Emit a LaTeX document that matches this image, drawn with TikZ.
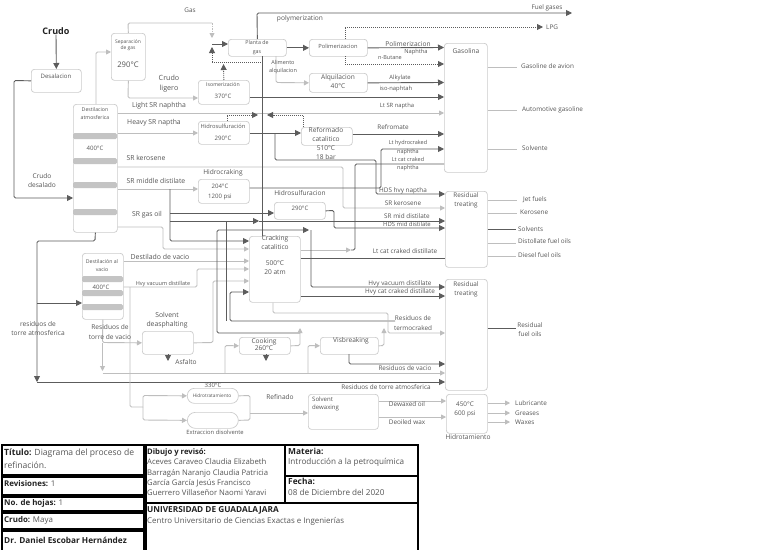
\documentclass[tikz,border=0pt]{standalone}
\usepackage{fontspec}
\setmainfont{Open Sans}
\usetikzlibrary{arrows.meta}
\definecolor{darkc}{HTML}{5C5C5C}
\definecolor{lightc}{HTML}{BEBEBE}
\definecolor{boxc}{HTML}{CCCCCC}
\definecolor{txtc}{HTML}{555555}
\definecolor{bandc}{HTML}{C4C4C4}
\definecolor{tbk}{HTML}{222222}
\newcommand\myfs[2]{\fontsize{\fpeval{#1*1.1}}{\fpeval{#2*1.1}}\selectfont}
\newcommand\tbl[1]{{\color{tbk}\bfseries #1}}
\begin{document}
\begin{tikzpicture}[x=1pt,y=-1pt,
 box/.style={draw=boxc,line width=0.7pt,rounded corners=3pt,fill=white,inner sep=0pt,anchor=north west},
 dk/.style={draw=darkc,line width=0.9pt,rounded corners=1.5pt},
 lt/.style={draw=lightc,line width=0.9pt,rounded corners=1.5pt},
 dkdot/.style={draw=darkc,line width=0.9pt,dash pattern=on 1pt off 1pt},
 tipd/.style={-{Triangle[length=6pt,width=6pt]}},
 tipl/.style={-{Triangle[length=5pt,width=5pt]}},
 lbl/.style={text=txtc,inner sep=0pt,align=center,font=\myfs{5.8}{7}},
 tiny/.style={text=txtc,inner sep=0pt,align=center,font=\myfs{4.7}{7.3}},
 band/.style={fill=bandc,draw=none,rounded corners=1.5pt},
 tb/.style={draw=black,line width=1.6pt,inner sep=0pt,anchor=north west},
 tbt/.style={text=txtc,inner sep=0pt,anchor=west,font=\myfs{7.8}{9}},
 tbn/.style={text=txtc,inner sep=0pt,anchor=west,font=\myfs{7}{8}}
]
\fill[white] (0,0) rectangle (768,549);
\useasboundingbox (0,0) rectangle (768,549);

% ---------- boxes ----------
\node[box,minimum width=50pt,minimum height=23pt] (desal) at (31,69) {};
\node[box,minimum width=34pt,minimum height=47pt] (sep) at (111,33) {};
\node[box,minimum width=44pt,minimum height=128pt] (atm) at (73,104) {};
\node[box,minimum width=41pt,minimum height=66pt] (vac) at (82,253) {};
\node[box,minimum width=58pt,minimum height=17pt] (planta) at (228,39) {};
\node[box,minimum width=58pt,minimum height=17pt] (polim) at (309,39) {};
\node[box,minimum width=58pt,minimum height=19pt] (alqu) at (309,73) {};
\node[box,minimum width=51pt,minimum height=24pt] (isom) at (198,80) {};
\node[box,minimum width=51pt,minimum height=23pt] (hds1) at (198,121) {};
\node[box,minimum width=51pt,minimum height=18pt] (refor) at (301,127) {};
\node[box,minimum width=51pt,minimum height=24pt] (hcrk) at (198,179) {};
\node[box,minimum width=51pt,minimum height=17pt] (hds2) at (274,202) {};
\node[box,minimum width=51pt,minimum height=66pt] (crack) at (249,236) {};
\node[box,minimum width=43pt,minimum height=129pt] (gasol) at (444,43) {};
\node[box,minimum width=42pt,minimum height=76pt] (res1) at (445,191) {};
\node[box,minimum width=42pt,minimum height=111pt] (res2) at (445,279) {};
\node[box,minimum width=51pt,minimum height=23pt] (deasph) at (142,331) {};
\node[box,minimum width=51pt,minimum height=17pt] (cook) at (239,337) {};
\node[box,minimum width=58pt,minimum height=17pt] (visb) at (320,337) {};
\node[box,rounded corners=7pt,minimum width=51pt,minimum height=15pt] (hidrotr) at (187,388) {};
\node[box,rounded corners=8pt,minimum width=51pt,minimum height=16pt] (extr) at (187,412) {};
\node[box,minimum width=70pt,minimum height=35pt] (dewax) at (308,394) {};
\node[box,minimum width=41pt,minimum height=39pt] (hidrotam) at (446,394) {};

% column bands
\fill[band] (73,133) rectangle (117,139);
\fill[band] (73,158) rectangle (117,164);
\fill[band] (73,182) rectangle (117,188);
\fill[band] (73,209) rectangle (117,215);
\fill[band] (82,276) rectangle (123,282);
\fill[band] (82,290) rectangle (123,296);
\fill[band] (82,304) rectangle (123,310);

% ---------- texts in boxes ----------
\node[text=tbk,inner sep=0pt,font=\fontsize{9}{10}\selectfont\bfseries] (crudoN) at (56,31) {Crudo};
\node[lbl,font=\myfs{5.5}{7}] (desalT) at (56,76) {Desalacion};
\node[tiny,font=\myfs{4.5}{5.5}] (sepT) at (128,45) {Separación\\de gas};
\node[lbl,font=\myfs{7}{8}] (sepC) at (128,65) {290°C};
\node[tiny] (atmT) at (95,114) {Destilacion\\atmosferica};
\node[lbl,font=\myfs{5.5}{7}] (atmC) at (95,148) {400°C};
\node[tiny] (vacT) at (102,266) {Destilación al\\vacio};
\node[lbl,font=\myfs{5.5}{7}] (vacC) at (101,287) {400°C};
\node[tiny,font=\myfs{4.8}{7.7}] (plantaT) at (257,47.5) {Planta de\\gas};
\node[lbl,font=\myfs{5.2}{7}] (polimT) at (338,46) {Polimerizacion};
\node[lbl,font=\myfs{6}{8.2}] (alquT) at (338,82) {Alquilacion\\40°C};
\node[tiny] (isomT) at (223,85) {Isomerización};
\node[lbl,font=\myfs{5.5}{7}] (isomC) at (223,96) {370°C};
\node[lbl,font=\myfs{5.2}{7}] (hds1T) at (223,126) {Hidrosulfuración};
\node[lbl,font=\myfs{5.5}{7}] (hds1C) at (223,138) {290°C};
\node[lbl,font=\myfs{6}{8.2},anchor=north] (reforT) at (326,127.5) {Reformado\\catalitico\\510°C\\18 bar};
\node[lbl,font=\myfs{6}{7}] (hcrkL) at (223,173) {Hidrocraking};
\node[lbl,font=\myfs{5.5}{9.1}] (hcrkT) at (220,192) {204°C\\1200 psi};
\node[lbl,font=\myfs{6}{7}] (hds2L) at (300,193) {Hidrosulfuracion};
\node[lbl,font=\myfs{5.5}{7}] (hds2T) at (300,208) {290°C};
\node[lbl,font=\myfs{6}{8.2}] (crackT) at (275,242.5) {Cracking\\catalitico};
\node[lbl,font=\myfs{6}{8.2}] (crackC) at (275,267.5) {500°C\\20 atm};
\node[lbl,font=\myfs{6}{7}] (gasolT) at (466,51) {Gasolina};
\node[lbl,font=\myfs{5.8}{8.2}] (res1T) at (466,200.5) {Residual\\treating};
\node[lbl,font=\myfs{5.8}{8.2}] (res2T) at (466,289.5) {Residual\\treating};
\node[lbl,font=\myfs{6.2}{7.7}] (deasphL) at (167,320) {Solvent\\deasphalting};
\node[lbl,font=\myfs{6}{6.8}] (cookT) at (264,344.5) {Cooking\\260°C};
\node[lbl,font=\myfs{6}{7}] (visbT) at (351,341) {Visbreaking};
\node[tiny,font=\myfs{4.3}{5}] (hidrotrT) at (212,395.5) {Hidrotratamiento};
\node[lbl,font=\myfs{5.5}{7}] (hidrotrC) at (213,385) {330°C};
\node[lbl,font=\myfs{5.3}{7}] (extrT) at (215,432) {Extraccion disolvente};
\node[lbl,font=\myfs{5.5}{7.3},align=left,anchor=north west] (dewaxT) at (312,397) {Solvent\\dewaxing};
\node[lbl,font=\myfs{5.8}{8.2}] (hidrotamT) at (465,409.5) {450°C\\600 psi};
\node[lbl,font=\myfs{6}{7}] (hidrotamL) at (468,437) {Hidrotamiento};

% ---------- connectors ----------
\coordinate (fgEnd) at (572,13);
\coordinate (lpgEnd) at (543,27);
\coordinate (gasJ) at (212,44);
\draw[dk,tipd] (crudoN.south) -- (desal.north);
\draw[dk,tipd] (desal.west) -- (14,80.5) -- (14,198) -- (atm.west|-0,198);
\draw[lt,tipl] (96,104) -- (96,52) -- (sep.west|-0,52);
\draw[lt] (sep.north) -- (128,23) -- (212,23);
\draw[draw=lightc,line width=0.9pt,dash pattern=on 1.5pt off 1pt,tipl] (212,23) -- (212,38);
\draw[dkdot,tipd] (212,62) -- (212,47);
\draw[dk,tipd] (gasJ) -- (planta.west|-0,44);
\draw[dkdot,tipd] (isom.north) -- (223.5,64);
\draw[dkdot] (212,62) -- (262,62);
\draw[dk,tipd] (planta.east) -- (polim.west);
\draw[dk,tipd] (planta.north) -- (257,13) -- (fgEnd);
\draw[dkdot,tipd] (345,39) -- (345,27) -- (lpgEnd);
\draw[dkdot,tipd] (345,56) -- (345,64) -- (gasol.west|-0,64);
\draw[dk,tipd] (polim.east) -- (gasol.west|-0,47.5);
\draw[lt,tipl] (276,56) -- (276,82.5) -- (alqu.west);
\draw[dk,tipd] (alqu.east) -- (gasol.west|-0,82.5);
\draw[lt,tipl] (sep.south) -- (128,98) -- (isom.west|-0,98);
\draw[dk,tipd] (isom.east|-0,97) -- (gasol.west|-0,97);
\draw[lt,tipl] (atm.east|-0,113) -- (gasol.west|-0,113);
\draw[dkdot,tipd] (227,121) -- (227,115) -- (258,115);
\draw[dkdot,tipd] (303,127) -- (303,115) -- (267,115);
\draw[lt,tipl] (atm.east|-0,133) -- (hds1.west|-0,133);
\draw[dk,tipd] (hds1.east|-0,133) -- (refor.west|-0,133);
\draw[dk,tipd] (refor.east|-0,134) -- (gasol.west|-0,134);
\draw[dk,tipd] (275,133) -- (275,160) -- (376,160) -- (376,194) -- (res1.west|-0,194);
\draw[lt,tipl] (atm.east|-0,167) -- (343,167) -- (343,208) -- (res1.west|-0,208);
\draw[lt,tipl] (atm.east|-0,189) -- (hcrk.west|-0,189);
\draw[dk,tipd] (170,189) -- (170,241) -- (crack.west|-0,241);
\draw[dk,tipd] (170,213) -- (hds2.west|-0,213);
\draw[dk,tipd] (170,221) -- (259,221);
\draw[dk,tipd] (259,221) -- (res1.west|-0,221);
\draw[dk,tipd] (hcrk.east|-0,188) -- (381,188) -- (381,149) -- (gasol.west|-0,149);
\draw[lt,tipl] (crack.east|-0,250) -- (351,250);
\draw[dk] (351,250) -- (355,250) -- (355,164) -- (gasol.west|-0,164);
\draw[dk] (crack.east|-0,258) -- (res1.west|-0,258);
\draw[dk,tipd] (hds2.east) -- (334,210.5) -- (334,228) -- (res1.west|-0,228);
\draw[dk] (262,56) -- (262,236);
\draw[lt,tipl] (atm.east|-0,227) -- (163,227) -- (163,249) -- (crack.west|-0,249);
\draw[dk,tipd] (atm.south) -- (95,241) -- (37,241) -- (37,382);
\draw[dk,tipd] (37,382) -- (res2.west|-0,382);
\draw[dk,tipd] (37,303) -- (vac.west|-0,303);
\draw[lt,tipl] (vac.east|-0,261) -- (crack.west|-0,261);
\draw[lt,tipl] (vac.east|-0,287) -- (197,287) -- (197,269) -- (crack.west|-0,269);
\draw[lt] (130,287) -- (130,407) -- (143,407);
\draw[lt,tipl] (143,407) -- (143,395.5) -- (hidrotr.west);
\draw[lt,tipl] (143,407) -- (143,420) -- (extr.west);
\draw[lt] (hidrotr.east) -- (250,395.5) -- (250,420) -- (extr.east);
\draw[lt,tipl] (250,413) -- (dewax.west|-0,413);
\draw[lt,tipl] (vac.south) -- (102.5,342.5) -- (deasph.west);
\draw[lt,tipl] (102.5,342.5) -- (102.5,371);
\draw[lt,tipl] (102.5,373) -- (res2.west|-0,373);
\draw[lt,tipl] (deasph.east) -- (213,342.5) -- (213,281) -- (crack.west|-0,281);
\draw[dk,tipd] (168,354) -- (168,361);
\draw[lt,tipl] (225,373) -- (225,345.5) -- (cook.west);
\draw[lt,tipl] (308,373) -- (308,345.5) -- (visb.west);
\draw[dk,tipd] (266,354) -- (266,361);
\draw[dk,tipd] (300,333) -- (217,333) -- (217,230) -- (309,230);
\draw[dk,tipd] (311,230) -- (311,287) -- (res2.west|-0,287);
\draw[dk] (226,221) -- (226,321);
\draw[dk,tipd] (395,321) -- (230,321) -- (230,292) -- (crack.west|-0,292);
\draw[lt,tipl] (crack.south-|273,0) -- (273,313) -- (388,313) -- (388,333) -- (res2.west|-0,333);
\draw[lt,tipl] (cook.east) -- (300,345.5) -- (300,328);
\draw[lt,tipl] (visb.east) -- (384,345.5) -- (384,328);
\draw[dk,tipd] (crack.east|-0,296) -- (res2.west|-0,296);
\draw[dk,tipd] (349,354) -- (349,364) -- (res2.west|-0,364);
\draw[lt,tipl] (dewax.east|-0,401) -- (hidrotam.west|-0,401);
\draw[lt,tipl] (dewax.east|-0,417) -- (hidrotam.west|-0,417);
\coordinate (lubE) at (510,403);
\coordinate (greE) at (510,413);
\coordinate (waxE) at (510,422);
\draw[lt,tipl] (hidrotam.east|-0,403) -- (lubE);
\draw[lt,tipl] (hidrotam.east|-0,413) -- (greE);
\draw[lt,tipl] (hidrotam.east|-0,422) -- (waxE);
% outputs
\draw[lt] (gasol.east|-0,67) -- (517,67);
\draw[lt] (gasol.east|-0,110) -- (517,110);
\draw[lt] (gasol.east|-0,149) -- (517,149);
\draw[lt] (res1.east|-0,200) -- (517,200);
\draw[lt] (res1.east|-0,213) -- (517,213);
\draw[dk,line width=0.7pt] (res1.east|-0,229) -- (516,229);
\draw[lt] (res1.east|-0,243) -- (516,243);
\draw[lt] (res1.east|-0,256) -- (516,256);
\draw[dk,line width=0.7pt] (res2.east|-0,328) -- (516,328);

% ---------- connector labels ----------
\node[lbl] (lGas) at (190,10) {Gas};
\node[lbl,font=\myfs{6}{7}] (lPolym) at (300,19) {polymerization};
\node[lbl] (lFuel) at (547,8) {Fuel gases};
\node[lbl,anchor=west] (lLPG) at (546,27) {LPG};
\node[lbl,font=\myfs{6}{7}] (lPolN) at (408,44) {Polimerizacion};
\node[lbl,font=\myfs{5.2}{7}] (lNaph) at (416,52) {Naphtha};
\node[lbl,font=\myfs{5}{7}] (lBut) at (390,58) {n-Butane};
\node[tiny,font=\myfs{5}{7.3}] (lAlim) at (283,67) {Alimento\\alquilacion};
\node[lbl,font=\myfs{5.3}{7}] (lAlk) at (400,78) {Alkylate};
\node[lbl,font=\myfs{5.3}{7}] (lIso) at (396,89) {iso-naphtah};
\node[lbl,font=\myfs{6.5}{9.1}] (lCl) at (169,84) {Crudo\\ligero};
\node[lbl,font=\myfs{6.2}{7}] (lLsr) at (159,106) {Light SR naphtha};
\node[lbl,font=\myfs{5.3}{7}] (lLtsr) at (397,106) {Lt SR naptha};
\node[lbl,font=\myfs{6.2}{7}] (lHsr) at (154,123) {Heavy SR naptha};
\node[lbl,font=\myfs{5.8}{7}] (lRef) at (393,127) {Refromate};
\node[lbl,font=\myfs{5}{7.7}] (lLth) at (408,147.5) {Lt hydrocraked\\naphtha};
\node[lbl,font=\myfs{5}{7.3}] (lLtc) at (408,164) {Lt cat craked\\naphtha};
\node[lbl,font=\myfs{6.2}{7}] (lSrk) at (146,158) {SR kerosene};
\node[lbl,font=\myfs{6.2}{7}] (lSrm) at (156,181) {SR middle distilate};
\node[lbl,font=\myfs{5.8}{7}] (lHds) at (403,191) {HDS hvy naptha};
\node[lbl,font=\myfs{5.8}{7}] (lSrk2) at (403,203) {SR kerosene};
\node[lbl,font=\myfs{6.2}{7}] (lSrg) at (147,215) {SR gas oil};
\node[lbl,font=\myfs{5.8}{7}] (lSrm2) at (407,216) {SR mid distilate};
\node[lbl,font=\myfs{5.4}{7}] (lHdsm) at (407,224.5) {HDS mid distilate};
\node[lbl,font=\myfs{5.8}{7}] (lLtcd) at (405,251) {Lt cat craked distillate};
\node[lbl,font=\myfs{6.3}{7}] (lDv) at (160,257) {Destilado de vacio};
\node[lbl,font=\myfs{5}{7}] (lHvd) at (163,284) {Hvy vacuum distillate};
\node[lbl,font=\myfs{5.8}{7}] (lHvd2) at (400,284) {Hvy vacuum distillate};
\node[lbl,font=\myfs{5.8}{7}] (lHcc) at (400,292) {Hvy cat craked distillate};
\node[lbl,font=\myfs{5.8}{9.1}] (lTerm) at (413,323) {Residuos de\\termocraked};
\node[lbl,font=\myfs{5.8}{7}] (lRv) at (405,368) {Residuos de vacio};
\node[lbl,font=\myfs{5.8}{7}] (lRta) at (386,387) {Residuos de torre atmosferica};
\node[lbl,font=\myfs{6}{8.2}] (lCd) at (42,180.5) {Crudo\\desalado};
\node[lbl,font=\myfs{6}{8.2}] (lRtor) at (38,328.5) {residuos de\\torre atmosferica};
\node[lbl,font=\myfs{6}{9.1}] (lRtv) at (110,332) {Residuos de\\torre de vacio};
\node[lbl,font=\myfs{6}{7}] (lAsf) at (186,362) {Asfalto};
\node[lbl,font=\myfs{6}{7}] (lRefi) at (280,397) {Refinado};
\node[lbl,font=\myfs{5.8}{7}] (lDwo) at (407,404) {Dewaxed oil};
\node[lbl,font=\myfs{5.8}{7}] (lDow) at (407,422) {Deoiled wax};
\node[lbl,anchor=west] (lLub) at (515,403) {Lubricante};
\node[lbl,anchor=west] (lGre) at (515,413) {Greases};
\node[lbl,anchor=west] (lWax) at (515,422) {Waxes};
\node[lbl,anchor=west] (lGav) at (521,66) {Gasoline de avion};
\node[lbl,anchor=west] (lAut) at (522,110) {Automotive gasoline};
\node[lbl,anchor=west] (lSolv) at (522,148) {Solvente};
\node[lbl,anchor=west] (lJet) at (523,200) {Jet fuels};
\node[lbl,anchor=west] (lKer) at (520,212) {Kerosene};
\node[lbl,anchor=west] (lSol) at (518,229) {Solvents};
\node[lbl,anchor=west] (lDfo) at (518,241) {Distollate fuel oils};
\node[lbl,anchor=west] (lDie) at (518,255) {Diesel fuel oils};
\node[lbl,font=\myfs{5.8}{8.2}] (lRfo) at (530,329.5) {Residual\\fuel oils};

% ---------- title block ----------
\node[tb,minimum width=142pt,minimum height=30pt] (tTit) at (1,444) {};
\node[tb,minimum width=142pt,minimum height=18pt] (tRev) at (1,476) {};
\node[tb,minimum width=142pt,minimum height=14pt] (tHoj) at (1,496) {};
\node[tb,minimum width=142pt,minimum height=16pt] (tCru) at (1,512) {};
\node[tb,minimum width=142pt,minimum height=22pt] (tDr) at (1,530) {};
\node[tb,minimum width=139pt,minimum height=58pt] (tDib) at (145,444) {};
\node[tb,minimum width=133pt,minimum height=31pt] (tMat) at (284,444) {};
\node[tb,minimum width=133pt,minimum height=27pt] (tFec) at (284,475) {};
\node[tb,minimum width=272pt,minimum height=50pt] (tUni) at (145,502) {};

\node[tbt] (xTit1) at (4,453) {\tbl{Título:} Diagrama del proceso de};
\node[tbt] (xTit2) at (4,465) {refinación.};
\node[tbt,font=\myfs{7.2}{9}] (xRev) at (4,484) {\tbl{Revisiones:} 1};
\node[tbt,font=\myfs{7.2}{9}] (xHoj) at (4,503) {\tbl{No. de hojas:} 1};
\node[tbt,font=\myfs{7.2}{9}] (xCru) at (4,520) {\tbl{Crudo:} Maya};
\node[tbt,font=\myfs{7.5}{9}] (xDr) at (4,540) {\tbl{Dr. Daniel Escobar Hernández}};
\node[tbn] (xDib) at (147,452) {\tbl{Dibujo y revisó:}};
\node[tbn] (xN1) at (147,462) {Aceves Caraveo Claudia Elizabeth};
\node[tbn] (xN2) at (147,473) {Barragán Naranjo Claudia Patricia};
\node[tbn] (xN3) at (147,483) {García García Jesús Francisco};
\node[tbn] (xN4) at (147,493) {Guerrero Villaseñor Naomi Yaravi};
\node[tbn,font=\myfs{7.6}{9}] (xMat) at (288,451) {\tbl{Materia:}};
\node[tbn,font=\myfs{7.4}{9}] (xMat2) at (288,462) {Introducción a la petroquímica};
\node[tbn,font=\myfs{7.6}{9}] (xFec) at (288,481) {\tbl{Fecha:}};
\node[tbn,font=\myfs{7.4}{9}] (xFec2) at (288,492) {08 de Diciembre del 2020};
\node[tbn,font=\myfs{7.5}{9}] (xUni) at (147,510) {\tbl{UNIVERSIDAD DE GUADALAJARA}};
\node[tbn,font=\myfs{7.2}{9}] (xUni2) at (147,521) {Centro Universitario de Ciencias Exactas e Ingenierías};
\end{tikzpicture}
\end{document}
